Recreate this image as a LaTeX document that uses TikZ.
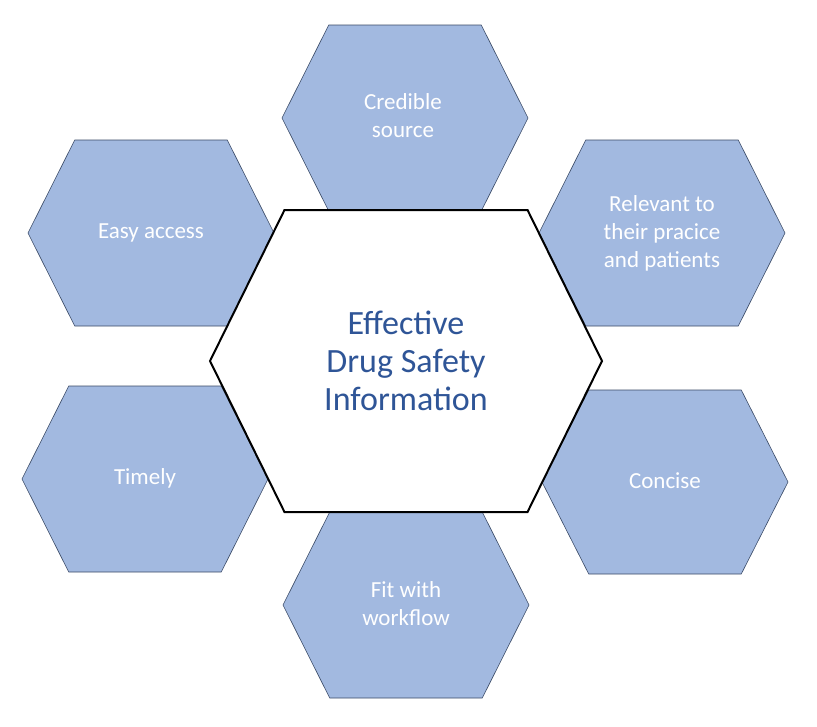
\documentclass[tikz,border=0pt]{standalone}
\usepackage{fontspec}
\setmainfont{Carlito}
\definecolor{hexfill}{HTML}{A2B9E0}
\definecolor{hexline}{HTML}{3A4A66}
\definecolor{midtext}{HTML}{2F5597}
\tikzset{
  outerhex/.style={fill=hexfill,draw=hexline,line width=0.6pt},
  midhex/.style={fill=white,draw=black,line width=2pt},
  outertext/.style={text=white,font=\fontsize{23}{28}\selectfont,align=center},
  midtext/.style={text=midtext,font=\fontsize{34}{38}\selectfont,align=center}
}
% hexagon: centre x, centre y, half width, half height, style
\newcommand\hexagon[5]{
  \draw[#5] (#1-#3,#2) -- (#1-0.62*#3,#2-#4) -- (#1+0.62*#3,#2-#4)
    -- (#1+#3,#2) -- (#1+0.62*#3,#2+#4) -- (#1-0.62*#3,#2+#4) -- cycle;
}
\begin{document}
\begin{tikzpicture}[x=1pt,y=-1pt]
  \useasboundingbox (0,0) rectangle (817,726);
  % outer cells
  \hexagon{405}{118}{123}{93}{outerhex}
  \hexagon{151}{233}{123}{93}{outerhex}
  \hexagon{662}{233}{123}{93}{outerhex}
  \hexagon{145}{479}{123}{93}{outerhex}
  \hexagon{665}{482}{123}{92}{outerhex}
  \hexagon{406}{605}{123}{93}{outerhex}
  % centre cell
  \hexagon{406}{361}{196}{151}{midhex}

  \node[outertext] (credible) at (403,116) {Credible\\source};
  \node[outertext] (easy) at (151,233) {Easy access};
  \node[outertext] (relevant) at (662,233) {Relevant to\\their pracice\\and patients};
  \node[outertext] (timely) at (145,478) {Timely};
  \node[outertext] (concise) at (665,481) {Concise};
  \node[outertext] (fit) at (406,604) {Fit with\\workflow};
  \node[midtext] (centre) at (406,361) {Effective\\Drug Safety\\Information};
\end{tikzpicture}
\end{document}
